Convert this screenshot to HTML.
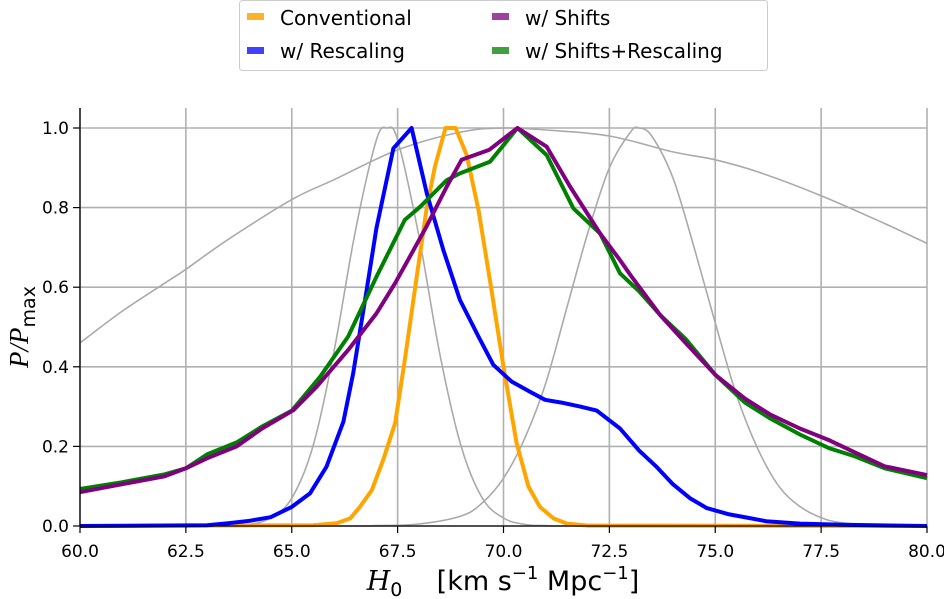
<!DOCTYPE html>
<html><head><meta charset="utf-8"><style>
body{margin:0;background:#fff;}
svg{display:block;font-family:"DejaVu Sans","Liberation Sans",sans-serif;}
</style></head><body>
<svg id="chart" width="944" height="599" viewBox="0 0 944 599">
<g id="grid"></g>
<g id="refs"></g>
<g id="series"></g>
<g id="axes"></g>
<g>
<rect x="239.5" y="0.5" width="528" height="70" rx="3" fill="#fff" stroke="#ccc"/>
<g><rect x="247" y="13" width="17" height="7" fill="#FFA500" opacity="0.85"/><text x="280" y="25" font-size="20">Conventional</text></g>
<g><rect x="247" y="47" width="17" height="7" fill="#0000FF" opacity="0.75"/><text x="280" y="58" font-size="20">w/ Rescaling</text></g>
<g><rect x="492" y="13" width="17" height="7" fill="#800080" opacity="0.75"/><text x="525" y="25" font-size="20">w/ Shifts</text></g>
<g><rect x="492" y="47" width="17" height="7" fill="#008000" opacity="0.75"/><text x="525" y="58" font-size="20">w/ Shifts+Rescaling</text></g>
</g>
<text x="0" y="0" transform="translate(28,327) rotate(-90)" text-anchor="middle" font-size="27" font-family="'Liberation Serif',serif" font-style="italic">P/P<tspan font-style="normal" font-family="'DejaVu Sans',sans-serif" font-size="19" dy="7">max</tspan></text>
<text x="503" y="590" text-anchor="middle" font-size="27" font-family="'DejaVu Sans',sans-serif" xml:space="preserve"><tspan font-family="'DejaVu Serif','Liberation Serif',serif" font-style="italic">H</tspan><tspan font-size="19" dy="6">0</tspan><tspan dy="-6">    [km s</tspan><tspan font-size="18" dy="-11">−1</tspan><tspan dy="11"> Mpc</tspan><tspan font-size="18" dy="-11">−1</tspan><tspan dy="11">]</tspan></text>
</svg>
<script>
const xTicks=[60,62.5,65,67.5,70,72.5,75,77.5,80];
const yTicks=[0,0.2,0.4,0.6,0.8,1.0];
const blueX=[60,63,63.5,64,64.5,65,65.43,65.82,66.22,66.45,66.78,67.0,67.4,67.83,68.19,68.58,68.97,69.41,69.76,70.19,70.63,70.98,71.37,71.81,72.2,72.75,73.2,73.6,74.0,74.4,74.8,75.3,75.8,76.2,77,78,80];
const blueY=[0,0.002,0.007,0.013,0.022,0.048,0.082,0.149,0.262,0.384,0.6,0.748,0.949,1.0,0.836,0.693,0.568,0.476,0.405,0.363,0.337,0.317,0.31,0.3,0.29,0.245,0.19,0.15,0.105,0.07,0.045,0.03,0.02,0.012,0.006,0.003,0];
const orangeX=[60,65.5,66.06,66.38,66.61,66.89,67.16,67.44,67.67,67.95,68.18,68.38,68.63,68.87,69.13,69.41,69.68,70.0,70.31,70.59,70.86,71.18,71.5,72,80];
const orangeY=[0,0.002,0.007,0.019,0.048,0.09,0.166,0.258,0.417,0.626,0.794,0.903,1.0,1.0,0.932,0.794,0.618,0.4,0.208,0.099,0.048,0.019,0.006,0.001,0];
const purpleX=[60,61,62,62.5,63,63.7,64.3,65.04,65.59,66.33,67.0,67.44,67.79,68.18,68.66,69.01,69.66,70.33,71.02,71.57,72.28,72.75,73.0,73.7,74.3,75.0,75.7,76.3,77,77.7,78.3,79.0,80];
const purpleY=[0.085,0.105,0.125,0.145,0.17,0.2,0.245,0.291,0.35,0.442,0.534,0.61,0.677,0.752,0.853,0.92,0.945,1.0,0.953,0.853,0.735,0.668,0.63,0.53,0.46,0.38,0.32,0.28,0.245,0.215,0.185,0.15,0.128];
const greenX=[60,61,62,62.5,63,63.7,64.3,65.0,65.67,66.33,67.0,67.67,68.03,68.66,68.97,69.68,70.33,71.02,71.65,72.28,72.75,73.2,73.7,74.3,75.0,75.7,76.3,77,77.7,78.3,79.0,80];
const greenY=[0.093,0.11,0.13,0.145,0.18,0.21,0.25,0.29,0.375,0.476,0.626,0.769,0.802,0.869,0.886,0.915,1.0,0.932,0.798,0.735,0.635,0.59,0.53,0.47,0.38,0.31,0.27,0.23,0.195,0.175,0.145,0.12];
const refNarrowX=[60,63.5,64,64.5,65,65.5,66,66.5,67,67.25,67.5,68,68.5,69,69.5,70,70.5,71,72,80];
const refNarrowY=[0,0,0.004,0.02,0.07,0.2,0.44,0.74,0.97,1.0,0.97,0.73,0.43,0.2,0.07,0.02,0.004,0.001,0,0];
const refRightX=[60,66,67,68,69,69.5,70,70.5,71,71.5,72,72.5,73,73.2,73.5,74,74.5,75,75.5,76,76.5,77,77.5,78,79,80];
const refRightY=[0,0,0.001,0.005,0.025,0.058,0.12,0.22,0.36,0.55,0.74,0.9,0.99,1.0,0.98,0.875,0.7,0.51,0.33,0.195,0.1,0.049,0.021,0.008,0.001,0];
const refWideX=[60,61,62,62.5,63.5,65,66,67.5,69,70,71,72.5,74,75,76,77.5,79,80];
const refWideY=[0.46,0.54,0.61,0.645,0.72,0.82,0.87,0.945,0.99,1.0,0.995,0.98,0.94,0.92,0.89,0.83,0.76,0.71];

const X0=80,X1=927,Y0=526,Y1=128;
const sx=v=>X0+(v-60)/20*(X1-X0);
const sy=v=>Y0-v*(Y0-Y1);
const NS='http://www.w3.org/2000/svg';
function mk(tag,parent,attrs){const e=document.createElementNS(NS,tag);for(const k in attrs)e.setAttribute(k,attrs[k]);parent.appendChild(e);return e;}
const grid=document.getElementById('grid'),axes=document.getElementById('axes');
xTicks.forEach(t=>{
  const l=mk('line',grid,{x1:sx(t),x2:sx(t),y1:108,y2:Y0,stroke:'#b0b0b0','stroke-width':1.6});
  
  
  const tk=mk('line',axes,{x1:sx(t),x2:sx(t),y1:Y0,y2:Y0+7,stroke:'#000','stroke-width':1.2});
  
  
  const tx=mk('text',axes,{x:sx(t),y:557,'text-anchor':'middle','font-size':17});
  tx.textContent=t.toFixed(1);
  
  
});
yTicks.forEach(t=>{
  const l=mk('line',grid,{x1:X0,x2:X1,y1:sy(t),y2:sy(t),stroke:'#b0b0b0','stroke-width':1.6});
  
  
  const tk=mk('line',axes,{x1:X0-7,x2:X0,y1:sy(t),y2:sy(t),stroke:'#000','stroke-width':1.2});
  
  
  const tx=mk('text',axes,{x:X0-11,y:sy(t)+6,'text-anchor':'end','font-size':17});
  tx.textContent=t.toFixed(1);
  
  
});
const ax1=mk('line',axes,{x1:X0,x2:X0,y1:108,y2:Y0,stroke:'#000','stroke-width':1.3});


const ax2=mk('line',axes,{x1:X0,x2:X1,y1:Y0,y2:Y0,stroke:'#000','stroke-width':1.3});


function poly(parent,xs,ys,color,w,name){
  const pts=xs.map((x,i)=>sx(x).toFixed(1)+','+sy(ys[i]).toFixed(1)).join(' ');
  const p=mk('polyline',parent,{points:pts,fill:'none',stroke:color,'stroke-width':w,'stroke-linejoin':'round'});
  
  
}
function smooth(parent,xs,ys,color,w,name){
  const P=xs.map((x,i)=>[sx(x),sy(ys[i])]);
  let d='M'+P[0][0].toFixed(1)+','+P[0][1].toFixed(1);
  for(let i=0;i<P.length-1;i++){
    const p0=P[Math.max(i-1,0)],p1=P[i],p2=P[i+1],p3=P[Math.min(i+2,P.length-1)];
    const c1=[p1[0]+(p2[0]-p0[0])/6,p1[1]+(p2[1]-p0[1])/6];
    const c2=[p2[0]-(p3[0]-p1[0])/6,p2[1]-(p3[1]-p1[1])/6];
    d+=' C'+c1[0].toFixed(1)+','+Math.min(c1[1],Y0).toFixed(1)+' '+c2[0].toFixed(1)+','+Math.min(c2[1],Y0).toFixed(1)+' '+p2[0].toFixed(1)+','+p2[1].toFixed(1);
  }
  const p=mk('path',parent,{d:d,fill:'none',stroke:color,'stroke-width':w});
  
  
}
const refs=document.getElementById('refs'),ser=document.getElementById('series');
smooth(refs,refWideX,refWideY,'#aaaaaa',1.6,'reference-wide');
smooth(refs,refNarrowX,refNarrowY,'#aaaaaa',1.6,'reference-narrow');
smooth(refs,refRightX,refRightY,'#aaaaaa',1.6,'reference-right');
poly(ser,orangeX,orangeY,'#FFA500',4,'line-conventional');
poly(ser,blueX,blueY,'#0000FF',4,'line-rescaling');
poly(ser,greenX,greenY,'#008000',4,'line-shifts-rescaling');
poly(ser,purpleX,purpleY,'#800080',4,'line-shifts');
</script>
</body></html>
